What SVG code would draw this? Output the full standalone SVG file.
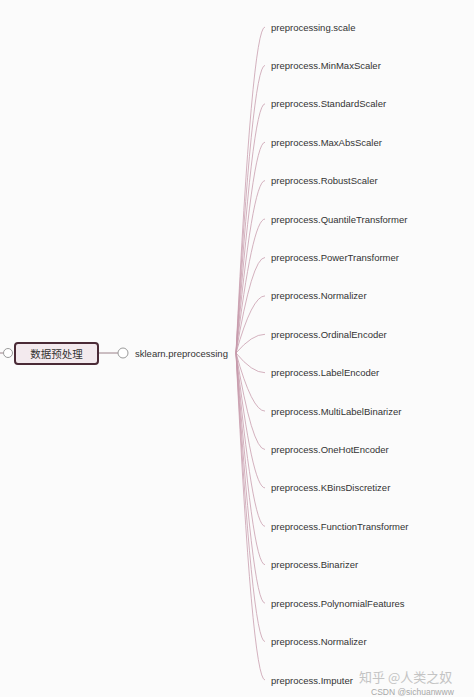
<svg xmlns="http://www.w3.org/2000/svg" width="474" height="697" viewBox="0 0 474 697">
<style>
.lbl{font-family:"Liberation Sans","Noto Sans",Arial,sans-serif;font-size:9.5px;fill:#333}
.br{fill:none;stroke:#c79aab;stroke-width:0.9;opacity:0.85}
.tog{fill:#fff;stroke:#9a9a9a;stroke-width:1}
.ln{stroke:#9a8088;stroke-width:1}
</style>
<rect width="474" height="697" fill="#fbfbfb"/>
<g id="connectors">
<line class="ln" x1="0" y1="353" x2="3" y2="353"/>
<line class="ln" x1="99" y1="353" x2="118" y2="353"/>
<path class="br" d="M236,353 Q252,27 265,27"/>
<path class="br" d="M236,353 Q252,65.4 265,65.4"/>
<path class="br" d="M236,353 Q252,103.8 265,103.8"/>
<path class="br" d="M236,353 Q252,142.2 265,142.2"/>
<path class="br" d="M236,353 Q252,180.6 265,180.6"/>
<path class="br" d="M236,353 Q252,219 265,219"/>
<path class="br" d="M236,353 Q252,257.5 265,257.5"/>
<path class="br" d="M236,353 Q252,295.9 265,295.9"/>
<path class="br" d="M236,353 Q252,334.3 265,334.3"/>
<path class="br" d="M236,353 Q252,372.7 265,372.7"/>
<path class="br" d="M236,353 Q252,411.1 265,411.1"/>
<path class="br" d="M236,353 Q252,449.5 265,449.5"/>
<path class="br" d="M236,353 Q252,487.9 265,487.9"/>
<path class="br" d="M236,353 Q252,526.3 265,526.3"/>
<path class="br" d="M236,353 Q252,564.7 265,564.7"/>
<path class="br" d="M236,353 Q252,603.2 265,603.2"/>
<path class="br" d="M236,353 Q252,641.6 265,641.6"/>
<path class="br" d="M236,353 Q252,680 265,680"/>
</g>
<g id="root">
<circle class="tog" cx="8" cy="353" r="4.5"/>
<rect x="15" y="343" width="83" height="21" rx="3" fill="#f3eaee" stroke="#4a2a36" stroke-width="2"/>
<text x="56.5" y="357.5" text-anchor="middle" font-family="'Noto Sans CJK SC',sans-serif" font-size="10.5" fill="#333">数据预处理</text>
</g>
<g id="sklearn">
<circle class="tog" cx="123" cy="353" r="5"/>
<text class="lbl" x="135" y="356.5">sklearn.preprocessing</text>
</g>
<g id="n1"><text class="lbl" x="271" y="30.5">preprocessing.scale</text></g>
<g id="n2"><text class="lbl" x="271" y="68.9">preprocess.MinMaxScaler</text></g>
<g id="n3"><text class="lbl" x="271" y="107.3">preprocess.StandardScaler</text></g>
<g id="n4"><text class="lbl" x="271" y="145.7">preprocess.MaxAbsScaler</text></g>
<g id="n5"><text class="lbl" x="271" y="184.1">preprocess.RobustScaler</text></g>
<g id="n6"><text class="lbl" x="271" y="222.5">preprocess.QuantileTransformer</text></g>
<g id="n7"><text class="lbl" x="271" y="261">preprocess.PowerTransformer</text></g>
<g id="n8"><text class="lbl" x="271" y="299.4">preprocess.Normalizer</text></g>
<g id="n9"><text class="lbl" x="271" y="337.8">preprocess.OrdinalEncoder</text></g>
<g id="n10"><text class="lbl" x="271" y="376.2">preprocess.LabelEncoder</text></g>
<g id="n11"><text class="lbl" x="271" y="414.6">preprocess.MultiLabelBinarizer</text></g>
<g id="n12"><text class="lbl" x="271" y="453">preprocess.OneHotEncoder</text></g>
<g id="n13"><text class="lbl" x="271" y="491.4">preprocess.KBinsDiscretizer</text></g>
<g id="n14"><text class="lbl" x="271" y="529.8">preprocess.FunctionTransformer</text></g>
<g id="n15"><text class="lbl" x="271" y="568.2">preprocess.Binarizer</text></g>
<g id="n16"><text class="lbl" x="271" y="606.7">preprocess.PolynomialFeatures</text></g>
<g id="n17"><text class="lbl" x="271" y="645.1">preprocess.Normalizer</text></g>
<g id="n18"><text class="lbl" x="271" y="683.5">preprocess.Imputer</text></g>
<g id="watermark">
<text x="359" y="682" font-family="'Noto Sans CJK SC',sans-serif" font-size="13" fill="#c4c4c4">知乎 @人类之奴</text>
<text x="371" y="694.5" font-family="'Liberation Sans',sans-serif" font-size="8.5" fill="#a8a8a8">CSDN @sichuanwww</text>
</g>
</svg>
